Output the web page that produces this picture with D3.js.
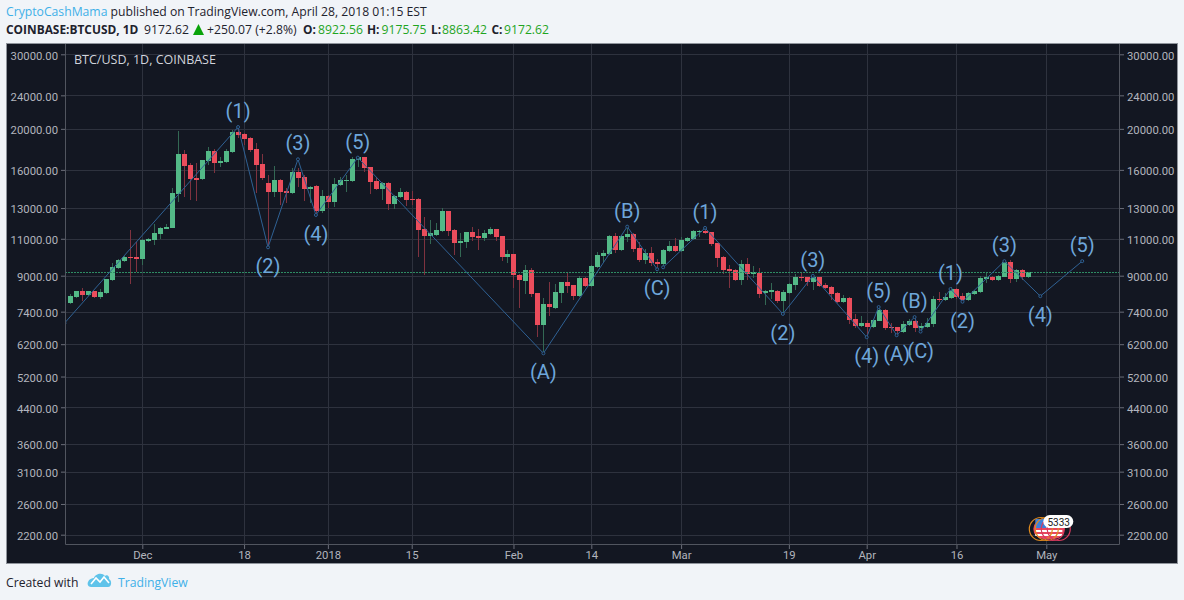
<!DOCTYPE html>
<html>
<head>
<meta charset="utf-8">
<style>
  html, body { margin: 0; padding: 0; background: #f1f4f8; }
  svg { display: block; }
  .axis text { font-family: Roboto, sans-serif; font-size: 11.3px; fill: #b2b5be; }
  .axis path { display: none; }
  .axis line { stroke: #6a6d78; }
  .head { font-family: "Open Sans", sans-serif; font-size: 12.2px; fill: #1e222d; }
  .bold { font-weight: 700; font-size: 11.9px; }
  .val { fill: #1fa51f; }
  .wave { font-family: Roboto, sans-serif; font-size: 20px; font-weight: 400; fill: #6ea6da; text-anchor: middle; }
</style>
<script src="https://cdn.jsdelivr.net/npm/d3@7"></script>
</head>
<body>
<div id="chart"></div>
<script>
// first candle is Nov 19 2017, one candle per day
var firstDay = "2017-11-19";

var opens = [
  7760, 8017, 8270, 8105, 8270, 8017, 8180, 8793, 9385, 9735,
  9965, 9965, 9840, 10860, 10930, 11290, 11625, 11670, 14030, 17415,
  16430, 15330, 15205, 16795, 17730, 16640, 16700, 17640, 19660, 19450,
  19030, 17930, 16490, 14880, 14190, 15145, 14245, 14105, 15815, 15390,
  14425, 14660, 12795, 13880, 13440, 14740, 15060, 15060, 16885, 17130,
  16230, 15040, 14400, 14900, 13290, 13800, 14190, 13660, 13635, 11600,
  11170, 11210, 11480, 12775, 11520, 10750, 10810, 11400, 11150, 11045,
  11270, 11585, 11150, 9965, 10110, 9020, 8745, 9270, 8180, 6885,
  7700, 7555, 8180, 8685, 8545, 8060, 8875, 8510, 9440, 10020,
  10130, 11150, 10350, 11110, 11270, 10450, 9803, 10170, 9685, 9590,
  10300, 10560, 10300, 10870, 10985, 11440, 11460, 11400, 10740, 9965,
  9320, 9270, 8793, 9575, 9085, 9150, 8180, 8240, 8290, 7832,
  8180, 8558, 8955, 8930, 8700, 8930, 8558, 8465, 8195, 7800,
  7975, 7100, 6840, 6960, 6795, 7030, 7470, 6795, 6795, 6630,
  6875, 7025, 6760, 6810, 6925, 7915, 7887, 7960, 8370, 8050,
  7887, 8150, 8240, 8825, 8930, 8793, 8955, 9700, 8825, 9285,
  8922.56
];
var highs = [
  8150, 8296, 8405, 8296, 8296, 8360, 8855, 9630, 9840, 10020,
  11540, 10830, 10970, 11020, 11900, 11750, 11920, 14480, 19770, 17830,
  16580, 16580, 16885, 18150, 17900, 17190, 17900, 19880, 20250, 19520,
  19100, 18490, 17415, 15560, 16340, 15200, 14480, 16130, 16130, 15560,
  14660, 14715, 14345, 13930, 15290, 15370, 15560, 17190, 17250, 17190,
  16280, 15370, 15010, 14960, 13955, 14480, 14245, 14270, 13710, 12360,
  12185, 11960, 12980, 12820, 11585, 11370, 11440, 11710, 11600, 11540,
  11710, 11625, 11190, 10350, 10150, 9070, 9525, 9370, 8205, 7960,
  8685, 8600, 8710, 9150, 8570, 8990, 8930, 9525, 10250, 10350,
  11230, 11335, 11230, 11857, 11335, 10830, 10390, 10500, 9840, 10390,
  10860, 11020, 11080, 11080, 11540, 11540, 11650, 11440, 10770, 10020,
  9540, 9320, 9803, 9890, 9490, 9370, 8328, 8640, 8328, 8328,
  8640, 9070, 9150, 8955, 9020, 8955, 8665, 8495, 8225, 8105,
  8005, 7310, 7230, 7075, 7100, 7635, 7500, 6960, 6820, 7050,
  7100, 7180, 6960, 7140, 8060, 8250, 8205, 8480, 8405, 8180,
  8250, 8328, 8990, 9130, 8990, 9036, 9770, 9803, 9320, 9320,
  9175.75
];
var lows = [
  7718, 7985, 7832, 8075, 7985, 7930, 8165, 8760, 9350, 9700,
  8600, 9170, 9540, 10790, 10635, 10985, 11585, 11650, 13460, 13780,
  13585, 13535, 15145, 16430, 15750, 16280, 16640, 17570, 19000, 18320,
  17670, 14090, 15145, 10540, 13820, 13220, 13340, 14030, 14550, 13510,
  13340, 12450, 12640, 12980, 13100, 14660, 14220, 14960, 16280, 15840,
  14030, 14345, 13585, 12865, 12935, 13710, 13150, 13220, 9980, 9036,
  10695, 11170, 11440, 11170, 10073, 9980, 10460, 10860, 10350, 10870,
  11230, 10870, 9770, 9660, 8420, 7560, 8150, 8005, 6440, 5900,
  7240, 7520, 7750, 8180, 7887, 8030, 8480, 8480, 9400, 9715,
  10073, 10170, 10310, 10830, 10250, 9715, 9590, 9490, 9370, 9370,
  10210, 10210, 10230, 10810, 10930, 11080, 11290, 10575, 9450, 9085,
  8430, 8745, 8558, 8793, 8890, 7985, 7676, 7915, 7750, 7310,
  8150, 8328, 8760, 8510, 8328, 8480, 8360, 7887, 7770, 7770,
  6925, 6760, 6795, 6460, 6775, 7015, 6701, 6600, 6521, 6600,
  6850, 6640, 6640, 6785, 6820, 7820, 7860, 7930, 7915, 7820,
  7860, 8120, 8180, 8640, 8760, 8760, 8920, 8665, 8710, 8793,
  8863.42
];
var closes = [
  8047, 8270, 8105, 8270, 8017, 8225, 8825, 9420, 9790, 9950,
  9910, 9855, 10930, 10985, 11335, 11650, 11750, 14090, 17415, 16340,
  15225, 15205, 16860, 17730, 16610, 16795, 17730, 19660, 19345, 18930,
  17830, 16430, 15300, 14190, 15145, 14190, 14105, 15815, 15300, 14425,
  14550, 12795, 13880, 13440, 14820, 15145, 15145, 16940, 17130, 16170,
  14980, 14425, 14880, 13290, 13880, 14190, 13585, 13565, 11540, 11170,
  11335, 11520, 12775, 11480, 10750, 10870, 11400, 11110, 11045, 11335,
  11585, 11110, 9965, 10110, 9000, 8793, 9270, 8150, 6885, 7700,
  7560, 8225, 8685, 8510, 8060, 8875, 8510, 9490, 10060, 10170,
  11150, 10350, 11150, 11270, 10410, 9803, 10170, 9630, 9590, 10330,
  10560, 10300, 10910, 11020, 11460, 11500, 11335, 10695, 9910, 9285,
  9235, 8780, 9575, 9085, 9170, 8180, 8290, 8328, 7832, 8240,
  8600, 8930, 8890, 8700, 8930, 8510, 8420, 8135, 7800, 7975,
  7075, 6840, 6960, 6795, 7075, 7470, 6775, 6760, 6640, 6925,
  7025, 6775, 6840, 6960, 7915, 7875, 8005, 8370, 8005, 7887,
  8180, 8285, 8875, 8930, 8793, 8990, 9700, 8825, 9285, 8922.56,
  9172.62
];

var lastPrice = 9172.62;
var priceTicks = [30000, 24000, 20000, 16000, 13000, 11000, 9000, 7400, 6200, 5200, 4400, 3600, 3100, 2600, 2200];

var dateTicks = ["2017-12-01", "2017-12-18", "2018-01-01", "2018-01-15", "2018-02-01", "2018-02-14", "2018-03-01", "2018-03-19", "2018-04-01", "2018-04-16", "2018-05-01"];
var dateLabels = ["Dec", "18", "2018", "15", "Feb", "14", "Mar", "19", "Apr", "16", "May"];

// wave counts, two separate drawings
var waveDates1 = ["2017-11-18", "2017-12-17", "2017-12-22", "2017-12-27", "2017-12-30", "2018-01-06", "2018-02-06", "2018-02-20", "2018-02-25"];
var wavePrices1 = [6950, 20200, 10500, 16950, 12520, 17100, 5900, 11750, 9320];
var waveLabels1 = ["", "(1)", "(2)", "(3)", "(4)", "(5)", "(A)", "(B)", "(C)"];

var waveDates2 = ["2018-02-26", "2018-03-05", "2018-03-18", "2018-03-23", "2018-04-01", "2018-04-03", "2018-04-06", "2018-04-09", "2018-04-10", "2018-04-15", "2018-04-17", "2018-04-24", "2018-04-30", "2018-05-07"];
var wavePrices2 = [9420, 11670, 7310, 8990, 6440, 7590, 6510, 7185, 6640, 8370, 7810, 9740, 8050, 9740];
var waveLabels2 = ["", "(1)", "(2)", "(3)", "(4)", "(5)", "(A)", "(B)", "(C)", "(1)", "(2)", "(3)", "(4)", "(5)"];

var eventDates = ["2018-04-30", "2018-05-01", "2018-05-02", "2018-05-03"];
var eventCounts = ["5", "3", "3", "3"];

// Define SVG area dimensions
var svgWidth = 1184;
var svgHeight = 600;

var chartMargin = { top: 44, right: 65, bottom: 56, left: 65 };
var width = svgWidth - chartMargin.left - chartMargin.right;
var height = svgHeight - chartMargin.top - chartMargin.bottom;

var parseDate = d3.utcParse("%Y-%m-%d");
var upColor = "#53b987", downColor = "#eb4d5c";
var upWick = "#336854", downWick = "#7f323f";

var svg = d3.select("#chart").append("svg")
  .attr("width", svgWidth)
  .attr("height", svgHeight);

// chart panel
svg.append("rect")
  .attr("x", 6.5).attr("y", 43.5)
  .attr("width", 1171).attr("height", 520)
  .attr("fill", "#131722")
  .attr("stroke", "#8f949c");

svg.append("clipPath").attr("id", "plot")
  .append("rect").attr("width", width).attr("height", height);

var chartGroup = svg.append("g")
  .attr("transform", `translate(${chartMargin.left}, ${chartMargin.top})`);

var xScale = d3.scaleUtc()
  .domain([parseDate("2017-12-01"), parseDate("2018-05-01")])
  .range([77.3, 981.3]);

var yScale = d3.scaleLog()
  .domain([30000, 2200])
  .range([10.3, 490.7]);

var tickDates = dateTicks.map(parseDate);
var bottomAxis = d3.axisBottom(xScale)
  .tickValues(tickDates)
  .tickFormat((d, i) => dateLabels[i])
  .tickSize(4)
  .tickPadding(2);
var leftAxis = d3.axisLeft(yScale)
  .tickValues(priceTicks)
  .tickFormat(d3.format(".2f"))
  .tickSize(4)
  .tickPadding(3);
var rightAxis = d3.axisRight(yScale)
  .tickValues(priceTicks)
  .tickFormat(d3.format(".2f"))
  .tickSize(4)
  .tickPadding(3);

// grid
chartGroup.selectAll(".hgrid")
  .data(priceTicks)
  .enter()
  .append("line")
  .attr("x1", 0).attr("x2", width)
  .attr("y1", d => Math.round(yScale(d)) + 0.5)
  .attr("y2", d => Math.round(yScale(d)) + 0.5)
  .attr("stroke", "#2e323e");

chartGroup.selectAll(".vgrid")
  .data(tickDates)
  .enter()
  .append("line")
  .attr("y1", 0).attr("y2", height)
  .attr("x1", d => Math.round(xScale(d)) + 0.5)
  .attr("x2", d => Math.round(xScale(d)) + 0.5)
  .attr("stroke", "#2e323e");

// watermark title
chartGroup.append("text")
  .attr("x", 9).attr("y", 20)
  .attr("font-family", "'Open Sans', sans-serif")
  .attr("font-size", "12.5px")
  .attr("fill", "#d1d4dc")
  .text("BTC/USD, 1D, COINBASE");

// candles
var candles = opens.map(function(o, i) {
  return {
    date: d3.utcDay.offset(parseDate(firstDay), i),
    open: o, high: highs[i], low: lows[i], close: closes[i]
  };
});

var candleGroup = chartGroup.append("g");

// snapped to whole pixels so the bodies stay crisp
candleGroup.selectAll(".wick")
  .data(candles)
  .enter()
  .append("line")
  .attr("x1", d => Math.round(xScale(d.date)) + 0.5)
  .attr("x2", d => Math.round(xScale(d.date)) + 0.5)
  .attr("y1", d => Math.round(yScale(d.high)))
  .attr("y2", d => Math.round(yScale(d.low)))
  .attr("stroke", d => d.close >= d.open ? upWick : downWick);

candleGroup.selectAll(".body")
  .data(candles)
  .enter()
  .append("rect")
  .attr("x", d => Math.round(xScale(d.date)) - 2)
  .attr("width", 5)
  .attr("y", d => Math.round(yScale(Math.max(d.open, d.close))))
  .attr("height", d => Math.max(1, Math.round(Math.abs(yScale(d.open) - yScale(d.close)))))
  .attr("fill", d => d.close >= d.open ? upColor : downColor);

// last price line
chartGroup.append("line")
  .attr("x1", 0).attr("x2", width)
  .attr("y1", Math.round(yScale(lastPrice)) + 0.5)
  .attr("y2", Math.round(yScale(lastPrice)) + 0.5)
  .attr("stroke", "#2e8b63")
  .attr("stroke-dasharray", "2,1");

// wave drawings
var waveLine = d3.line()
  .x(d => xScale(d.date))
  .y(d => yScale(d.price));

function drawWave(dates, prices, labels) {
  var points = dates.map(function(d, i) {
    return { date: parseDate(d), price: prices[i], label: labels[i] };
  });
  var g = chartGroup.append("g").attr("clip-path", "url(#plot)");

  g.append("path")
    .datum(points)
    .attr("d", waveLine)
    .attr("fill", "none")
    .attr("stroke", "#2f6194");

  g.selectAll("circle")
    .data(points)
    .enter()
    .append("circle")
    .attr("cx", d => xScale(d.date))
    .attr("cy", d => yScale(d.price))
    .attr("r", 1.5)
    .attr("fill", "#131722")
    .attr("stroke", "#2f6194");

  // labels go above a peak and below a trough
  g.selectAll("text")
    .data(points.filter(d => d.label !== ""))
    .enter()
    .append("text")
    .attr("class", "wave")
    .attr("x", d => xScale(d.date))
    .attr("y", function(d) {
      var i = points.indexOf(d);
      var prev = points[i - 1].price;
      return yScale(d.price) + (d.price > prev ? -9 : 26);
    })
    .text(d => d.label);
}

drawWave(waveDates1, wavePrices1, waveLabels1);
drawWave(waveDates2, wavePrices2, waveLabels2);

// events at the foot of the plot
var eventGroup = chartGroup.append("g");
var eventY = height - 15;
var flagX = xScale(parseDate(eventDates[1]));

eventGroup.append("rect")
  .attr("x", flagX - 13).attr("y", eventY - 10)
  .attr("width", 31).attr("height", 20).attr("rx", 10)
  .attr("fill", "#e8475f");
eventGroup.selectAll(".stripe")
  .data([-3, 1, 5])
  .enter()
  .append("rect")
  .attr("x", flagX - 11).attr("y", d => eventY + d)
  .attr("width", 27).attr("height", 2)
  .attr("fill", "#ffffff");
eventGroup.append("rect")
  .attr("x", flagX - 11).attr("y", eventY - 10)
  .attr("width", 11).attr("height", 9)
  .attr("fill", "#3f7fd8");

eventGroup.selectAll(".ring")
  .data(eventDates)
  .enter()
  .append("rect")
  .attr("x", d => xScale(parseDate(d)) - 11)
  .attr("y", eventY - 11.5)
  .attr("width", 23).attr("height", 23).attr("rx", 11.5)
  .attr("fill", "none")
  .attr("stroke", (d, i) => i < 2 ? "#e08a1e" : "#d83a5e")
  .attr("stroke-width", 1.2);

eventGroup.append("rect")
  .attr("x", flagX - 3).attr("y", eventY - 14)
  .attr("width", 30).attr("height", 13).attr("rx", 6.5)
  .attr("fill", "#ffffff");
eventGroup.selectAll(".count")
  .data(eventCounts)
  .enter()
  .append("text")
  .attr("x", (d, i) => flagX + 4 + i * 5.6)
  .attr("y", eventY - 3.5)
  .attr("text-anchor", "middle")
  .attr("font-family", "Roboto, sans-serif")
  .attr("font-size", "10px")
  .attr("fill", "#222")
  .text(d => d);

// plot frame
chartGroup.append("path")
  .attr("d", `M0.5,0V${height + 0.5}H${width + 0.5}V0`)
  .attr("fill", "none")
  .attr("stroke", "#51555f");

// axes
chartGroup.append("g")
  .attr("class", "axis")
  .call(leftAxis)
  .selectAll("text").attr("dy", "0.42em");
chartGroup.append("g")
  .attr("class", "axis")
  .attr("transform", `translate(${width + 1}, 0)`)
  .call(rightAxis)
  .selectAll("text").attr("dy", "0.42em");
chartGroup.append("g")
  .attr("class", "axis")
  .attr("transform", `translate(0, ${height + 1})`)
  .call(bottomAxis);

// header lines
var head = svg.append("g");
var line1 = head.append("text").attr("class", "head").attr("x", 6).attr("y", 16);
line1.append("tspan").style("fill", "#3fb0e8").text("CryptoCashMama");
line1.append("tspan").text(" published on TradingView.com, April 28, 2018 01:15 EST");

var headRow = [
  { x: 6, t: "COINBASE:BTCUSD, 1D", c: "head bold" },
  { x: 144, t: "9172.62", c: "head" },
  { x: 207, t: "+250.07 (+2.8%)", c: "head" },
  { x: 303, t: "O:", c: "head bold" },
  { x: 318, t: "8922.56", c: "head val" },
  { x: 367, t: "H:", c: "head bold" },
  { x: 381.5, t: "9175.75", c: "head val" },
  { x: 431, t: "L:", c: "head bold" },
  { x: 442, t: "8863.42", c: "head val" },
  { x: 491.5, t: "C:", c: "head bold" },
  { x: 504, t: "9172.62", c: "head val" }
];
head.selectAll(".row")
  .data(headRow)
  .enter()
  .append("text")
  .attr("class", d => d.c)
  .attr("x", d => d.x)
  .attr("y", 34)
  .text(d => d.t);

// up triangle
head.append("path")
  .attr("d", "M193,35L198.5,24L204,35Z")
  .attr("fill", "#0aa30a");

// footer
head.append("text").attr("class", "head").attr("x", 6).attr("y", 587).text("Created with");
head.append("text").attr("class", "head").attr("x", 118).attr("y", 587)
  .style("fill", "#3fb0e8").text("TradingView");
head.append("path")
  .attr("d", "M88,582 C89,579 92,578 94,578 C95,574 102,572 105,576 C107,574 110,577 109,579 C112,580 112,587 108,587 L91,587 C88,587 87,584 88,582Z")
  .attr("fill", "#5fc3ea");
head.append("path")
  .attr("d", "M91,584L96,578L100,582L104,577L109,583")
  .attr("fill", "none")
  .attr("stroke", "#ffffff")
  .attr("stroke-width", 1.6);
</script>
</body>
</html>
